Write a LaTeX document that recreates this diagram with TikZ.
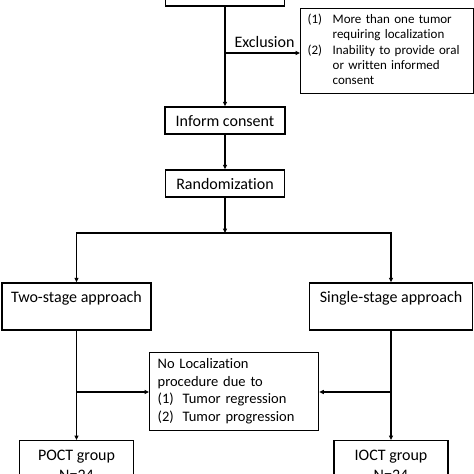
\documentclass[tikz,border=0pt]{standalone}
\usepackage{fontspec}
\setmainfont[Ligatures=NoCommon]{Carlito}
\usetikzlibrary{arrows.meta,positioning,calc}

\begin{document}
\begin{tikzpicture}[x=1pt,y=-1pt,
    font=\fontsize{16}{19.5}\selectfont,
    box/.style={draw, line width=1.3pt, inner xsep=4pt, inner ysep=4pt, text height=15.7pt, text depth=3.3pt},
    tallbox/.style={box, text depth=23.3pt},
    listbox/.style={draw, line width=1.3pt, align=left},
    arr/.style={line width=1.2pt, -{Triangle[length=4.5pt,width=4pt]}}]
    \useasboundingbox (0,0) rectangle (474,474);
    \clip (0,0) rectangle (474,474);

    % Main column
    \node[box, minimum width=119pt, minimum height=30pt] (screen) at (225,-9) {};
    \node[box, minimum width=120pt] (inform) at (225,120.5) {Inform consent};
    \node[box, minimum width=119pt] (random) at (225,183.5) {Randomization};

    % Exclusion criteria
    \node[listbox, anchor=north west, inner xsep=7pt, text width=159pt, minimum height=85pt,
          font=\fontsize{13}{15.3}\selectfont] (excl) at (300,8) {%
        \begin{tabular}{@{}p{25pt}@{}l@{}}
        (1) & More than one tumor\\
            & requiring localization\\
        (2) & Inability to provide oral\\
            & or written informed\\
            & consent
        \end{tabular}};
    \coordinate (exsplit) at (225,53);
    \node[anchor=base] (exlabel) at (264.5,47.7) {Exclusion};

    % Two arms
    \coordinate (split) at (225,233);
    \node[tallbox, minimum width=149pt] (twostage) at (76.5,306.5) {Two-stage approach};
    \node[tallbox, minimum width=163pt] (single) at (391,306.5) {Single-stage approach};

    % No localization
    \node[listbox, anchor=north west, inner xsep=8pt, text width=153pt, minimum height=78pt,
          font=\fontsize{14.5}{17.6}\selectfont] (noloc) at (149,352) {%
        \begin{tabular}{@{}p{25pt}@{}l@{}}
        \multicolumn{2}{@{}l@{}}{No Localization}\\
        \multicolumn{2}{@{}l@{}}{procedure due to}\\
        (1) & Tumor regression\\
        (2) & Tumor progression
        \end{tabular}};
    \coordinate (brl) at (76.5,392);
    \coordinate (brr) at (391,392);

    % Groups
    \node[draw, line width=1.3pt, align=center, anchor=north, minimum width=114pt, inner ysep=9.5pt] (poct) at (76.5,440) {POCT group\\N=24};
    \node[draw, line width=1.3pt, align=center, anchor=north, minimum width=114pt, inner ysep=9.5pt] (ioct) at (391,440) {IOCT group\\N=24};

    % Connectors
    \draw[arr] (screen.south) -- (inform.north);
    \draw[arr] (exsplit) -- (exsplit -| excl.west);
    \draw[arr] (inform.south) -- (random.north);
    \draw[arr] (random.south) -- (split);
    \draw[arr] (split) -| (twostage.north);
    \draw[arr] (split) -| (single.north);
    \draw[arr] (twostage.south) -- (poct.north);
    \draw[arr] (single.south) -- (ioct.north);
    \draw[arr] (brl) -- (brl -| noloc.west);
    \draw[arr] (brr) -- (brr -| noloc.east);
\end{tikzpicture}
\end{document}
